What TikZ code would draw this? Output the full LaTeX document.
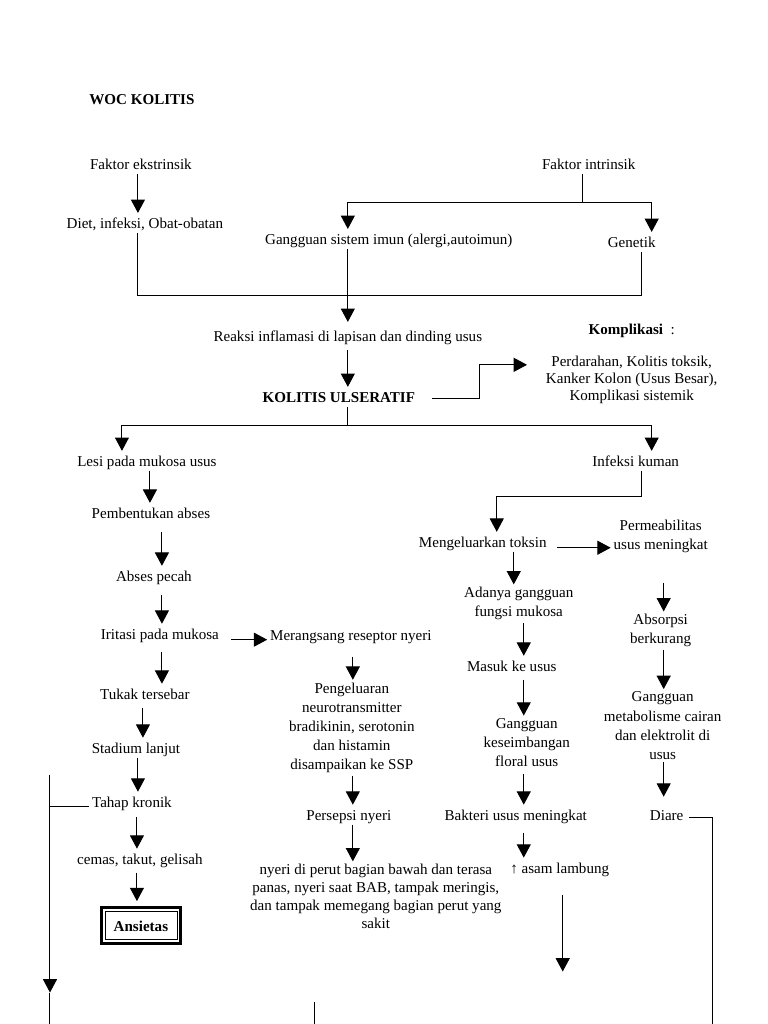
\documentclass[tikz,border=0pt]{standalone}
\usepackage{fontspec}
\setmainfont{Liberation Serif}
\usetikzlibrary{arrows.meta, positioning, calc, fit}
\tikzset{
  lbl/.style={font=\fontsize{11.3}{14.3}\selectfont, inner sep=2pt,
              text height=9.5pt, text depth=1pt},
  lblm/.style={font=\fontsize{11.3}{14.3}\selectfont, align=center, inner sep=2pt},
  hdr/.style={lbl, font=\fontsize{11.3}{14.3}\selectfont\bfseries},
  arr/.style={-{Triangle[width=10.5pt,length=10pt]}, line width=0.75pt},
  ln/.style={line width=0.75pt}
}

\begin{document}
\begin{tikzpicture}[x=0.75pt,y=-0.75pt]
  \fill[white] (0,0) rectangle (768,1024);
  \node[hdr] (title) at (142,99) {WOC KOLITIS};

  % causes
  \node[lbl] (ekst) at (141,164) {Faktor ekstrinsik};
  \node[lbl] (diet) at (145,223) {Diet, infeksi, Obat-obatan};
  \node[lbl] (intr) at (589,164) {Faktor intrinsik};
  \node[lbl] (imun) at (389,239) {Gangguan sistem imun (alergi,autoimun)};
  \node[lbl] (gen)  at (632,242) {Genetik};
  \node[lbl] (reaksi) at (348,336) {Reaksi inflamasi di lapisan dan dinding usus};
  \node[hdr] (kolitis) at (339,397) {KOLITIS ULSERATIF};
  \node[lbl] (kompl) at (632,329) {\textbf{Komplikasi}\ \ :};
  \node[lblm,font=\fontsize{11.3}{12.8}\selectfont] (komplis) at (632,380)
    {Perdarahan, Kolitis toksik,\\Kanker Kolon (Usus Besar),\\Komplikasi sistemik};

  % left branch
  \node[lbl] (lesi)   at (147,461) {Lesi pada mukosa usus};
  \node[lbl] (pemb)   at (151,513) {Pembentukan abses};
  \node[lbl] (pecah)  at (154,576) {Abses pecah};
  \node[lbl] (irit)   at (160,634) {Iritasi pada mukosa};
  \node[lbl] (tukak)  at (145,694) {Tukak tersebar};
  \node[lbl] (stad)   at (136,748) {Stadium lanjut};
  \node[lbl] (kronik) at (132,802) {Tahap kronik};
  \node[lbl] (cemas)  at (140,859) {cemas, takut, gelisah};
  \node[hdr,draw,line width=0.6pt,inner xsep=6.6pt,inner ysep=5.2pt] (ans) at (141,926) {Ansietas};
  \node[draw,line width=2.2pt,inner sep=2.5pt,fit=(ans)] (ansfr) {};

  % middle branch
  \node[lbl] (meran) at (351,635) {Merangsang reseptor nyeri};
  \node[lblm] (neuro) at (352,728)
    {Pengeluaran\\neurotransmitter\\bradikinin, serotonin\\dan histamin\\disampaikan ke SSP};
  \node[lbl] (persepsi) at (349,815) {Persepsi nyeri};
  \node[lblm,font=\fontsize{11.3}{13.5}\selectfont] (nyeri) at (376,897)
    {nyeri di perut bagian bawah dan terasa\\panas, nyeri saat BAB, tampak meringis,\\dan tampak memegang bagian perut yang\\sakit};

  % right branch
  \node[lbl]  (infeksi)  at (636,461) {Infeksi kuman};
  \node[lbl]  (toksin)   at (483,542) {Mengeluarkan toksin};
  \node[lblm] (perm)     at (661,537) {Permeabilitas\\usus meningkat};
  \node[lblm] (fungsi)   at (519,604) {Adanya gangguan\\fungsi mukosa};
  \node[lbl]  (masuk)    at (512,666) {Masuk ke usus};
  \node[lblm] (floral)   at (527,743) {Gangguan\\keseimbangan\\floral usus};
  \node[lbl]  (bakteri)  at (516,815) {Bakteri usus meningkat};
  \node[lbl]  (asam)     at (560,868) {↑ asam lambung};
  \node[lblm] (absorpsi) at (661,631) {Absorpsi\\berkurang};
  \node[lblm] (metab)    at (663,726) {Gangguan\\metabolisme cairan\\dan elektrolit di\\usus};
  \node[lbl]  (diare)    at (667,815) {Diare};

  % connectors: causes
  \draw[arr] (ekst.south -| 138,0) -- (diet.north -| 138,0);
  \coordinate (fork) at (583,203);
  \draw[ln] (intr.south -| fork) -- (fork);
  \draw[arr] (fork) -| (imun.north -| 348,0);
  \draw[arr] (fork) -| (gen.north -| 652,0);
  \coordinate (join) at (348,296);
  \draw[ln] (diet.south -| 138,0) |- (join) -| (gen.south -| 642,0);
  \draw[arr,shorten >=3pt] (imun.south -| join) -- (reaksi);
  \draw[arr] ([yshift=-3pt]reaksi.south) -- (reaksi.south |- kolitis.north);
  \draw[arr,shorten >=12pt] ([xshift=10.5pt,yshift=-1.5pt]kolitis.east) -- ++(48,0)
    |- (komplis.west |- 0,365);
  \coordinate (split) at (348,426);
  \draw[ln] (kolitis.south -| split) -- (split);
  \draw[arr] (split) -| (lesi.north -| 122,0);
  \draw[arr] (split) -| (infeksi.north -| 652,0);

  % connectors: left
  \draw[arr] (lesi.south -| 150,0) -- (pemb.north -| 150,0);
  \draw[arr,shorten <=7pt] (pemb.south -| 162,0) -- (pecah.north -| 162,0);
  \draw[arr,shorten <=7pt] (pecah.south -| 162,0) -- (irit.north -| 162,0);
  \coordinate (iritE) at ([xshift=7pt,yshift=-4.5pt]irit.east);
  \draw[arr] (iritE) -- (iritE -| meran.west);
  \draw[arr,shorten <=6pt] (irit.south -| 162,0) -- (tukak.north -| 162,0);
  \draw[arr,shorten <=3pt] (tukak.south -| 143,0) -- (stad.north -| 143,0);
  \draw[arr] (stad.south -| 138,0) -- (kronik.north -| 138,0);
  \draw[arr,shorten <=4pt] (kronik.south -| 137,0) -- (cemas.north -| 137,0);
  \draw[arr,shorten <=3pt,shorten >=4pt] (cemas.south -| 137,0) -- (ansfr.north -| 137,0);
  \coordinate (kronW) at ([yshift=-4pt]kronik.west);
  \coordinate (lTop) at (50,775);
  \coordinate (lTip) at (50,993);
  \coordinate (lEnd) at (50,1024);
  \draw[ln] (kronW) -- (kronW -| lTop);
  \draw[arr] (lTop) -- (lTip);
  \draw[ln] (lTip) -- (lEnd);

  % connectors: middle
  \draw[arr,shorten <=9pt] (meran.south -| 353,0) -- (neuro.north -| 353,0);
  \draw[arr] (neuro.south -| 353,0) -- (persepsi.north -| 353,0);
  \draw[arr] (persepsi.south -| 353,0) -- (nyeri.north -| 353,0);
  \coordinate (mTop) at (315,1002);
  \coordinate (mEnd) at (315,1024);
  \draw[ln] (mTop) -- (mEnd);

  % connectors: right
  \coordinate (bend) at (642,497);
  \draw[arr] (infeksi.south -| bend) -- (bend) -| (toksin.north -| 497,0);
  \coordinate (toksE) at ([xshift=6pt,yshift=-4.5pt]toksin.east);
  \draw[arr] (toksE) -- (toksE -| perm.west);
  \draw[arr] (toksin.south -| 514,0) -- (fungsi.north -| 514,0);
  \draw[arr] (fungsi.south -| 524,0) -- (masuk.north -| 524,0);
  \draw[arr,shorten <=3pt] (masuk.south -| 524,0) -- (floral.north -| 524,0);
  \draw[arr,shorten <=3pt] (floral.south -| 524,0) -- (bakteri.north -| 524,0);
  \draw[arr,shorten <=6pt] (bakteri.south -| 524,0) -- (asam.north -| 524,0);
  \coordinate (aTop) at (563,895);
  \coordinate (aTip) at (563,972);
  \draw[arr] (aTop) -- (aTip);
  \draw[arr,shorten <=20pt] (perm.south -| 664,0) -- (absorpsi.north -| 664,0);
  \draw[arr] (absorpsi.south -| 664,0) -- (metab.north -| 664,0);
  \draw[arr,shorten >=6pt] (metab.south -| 664,0) -- (diare.north -| 664,0);
  \coordinate (diareE) at ([xshift=2pt,yshift=-2pt]diare.east);
  \coordinate (rEnd) at (713,1024);
  \draw[ln] (diareE) -| (rEnd);
\end{tikzpicture}
\end{document}
